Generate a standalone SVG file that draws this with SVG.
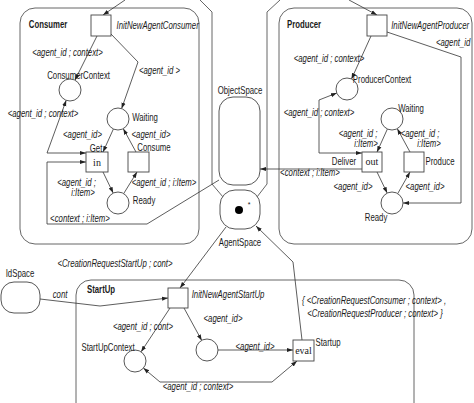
<svg xmlns="http://www.w3.org/2000/svg" width="474" height="403" viewBox="0 0 474 403">
<defs>
<marker id="a" viewBox="0 0 10 10" refX="10" refY="5" markerWidth="6" markerHeight="6" markerUnits="userSpaceOnUse" orient="auto-start-reverse">
<path d="M0,1.5 L10,5 L0,8.5 z" fill="#222"/>
</marker>
</defs>
<style>
.b{fill:none;stroke:#555;stroke-width:0.9}
.n{fill:#fff;stroke:#444;stroke-width:0.9}
.e{fill:none;stroke:#333;stroke-width:0.8}
.ar{fill:none;stroke:#333;stroke-width:0.8;marker-end:url(#a)}
.bi{fill:none;stroke:#333;stroke-width:0.8;marker-end:url(#a);marker-start:url(#a)}
text{font-family:"Liberation Sans",Arial,sans-serif;font-size:10px;fill:#1a1a1a;text-anchor:middle}
.t{transform-box:fill-box;transform-origin:center;transform:scaleX(0.78)}
.i{font-style:italic}
.h{font-weight:bold}
.s{font-family:"Liberation Serif","Times New Roman",serif;font-size:10px}
</style>

<g id="containers">
<rect class="b" x="20" y="8" width="179" height="236" rx="15"/>
<rect class="b" x="279" y="8" width="193" height="236" rx="15"/>
<rect class="b" x="76" y="280" width="338" height="150" rx="15"/>
<path class="b" d="M200,0 L212,12 L212,184 L223,197"/>
<path class="b" d="M280,0 L267,12 L267,184 L257,197"/>
</g>

<g id="connectors">
<path class="ar" d="M125,0 L103,15"/>
<path class="ar" d="M349,0 L377,15"/>
<path class="ar" d="M97,36 L74.9,80.2"/>
<path class="ar" d="M111,34 L138,62 L121.6,108.6"/>
<path class="ar" d="M113.4,129 L103,152"/>
<path class="ar" d="M136,152 L123.3,128.7"/>
<path class="ar" d="M103,172 L113.2,193.1"/>
<path class="ar" d="M123.7,193.6 L137,172"/>
<path class="bi" d="M66.2,100.3 L47,153 L86,153"/>
<path class="ar" d="M219,180 L147,224 L47,224 L47,162 L86,162"/>

<path class="ar" d="M371,36 L351.5,79"/>
<path class="ar" d="M387,32 L461,57 L461,203 L403,203"/>
<path class="ar" d="M387.4,129 L377,152"/>
<path class="ar" d="M410,152 L397.3,128.7"/>
<path class="ar" d="M377,172 L387.2,193.1"/>
<path class="ar" d="M397.7,193.6 L410,172"/>
<path class="bi" d="M336.8,93 L319,100 L319,153 L362,153"/>
<path class="ar" d="M362,169 L260,169"/>

<path class="ar" d="M40,299 L100,306 L168,298"/>
<path class="ar" d="M226,227 L180,288"/>
<path class="ar" d="M170,308 L141.1,351.8"/>
<path class="ar" d="M184,308 L201.7,340.4"/>
<path class="ar" d="M218,350 L293,350"/>
<path class="bi" d="M143.4,368.1 L160,382 L272,382 L297,361"/>
<path class="ar" d="M302,340 L293,262 L256,226"/>
</g>

<g id="ObjectSpace">
<rect class="n" x="219" y="97" width="41" height="88" rx="14"/>
<text class="t" x="240" y="94">ObjectSpace</text>
</g>
<g id="AgentSpace">
<rect class="n" x="220" y="190" width="40" height="39" rx="15"/>
<circle cx="239" cy="210" r="4" fill="#000"/>
<text x="249" y="207" style="font-size:7px">*</text>
<text class="t" x="240" y="246">AgentSpace</text>
</g>

<g id="Consumer">
<text class="t h" x="48" y="28">Consumer</text>
</g>
<g id="InitNewAgentConsumer">
<rect class="n" x="91" y="15" width="20" height="21"/>
<text class="t i" x="157.5" y="29">InitNewAgentConsumer</text>
</g>
<g id="ConsumerContext">
<circle class="n" cx="70" cy="90" r="11"/>
<text class="t" x="78.5" y="79">ConsumerContext</text>
</g>
<g id="ConsumerWaiting">
<circle class="n" cx="118" cy="119" r="11"/>
<text class="t" x="145" y="121">Waiting</text>
</g>
<g id="Get">
<rect class="n" x="86" y="152" width="22" height="20"/>
<text class="s" x="97" y="166">in</text>
<text class="t" x="96" y="152">Get</text>
</g>
<g id="Consume">
<rect class="n" x="128" y="152" width="21" height="20"/>
<text class="t" x="154" y="151">Consume</text>
</g>
<g id="ConsumerReady">
<circle class="n" cx="118" cy="203" r="11"/>
<text class="t" x="144" y="204">Ready</text>
</g>

<g id="Producer">
<text class="t h" x="304" y="28">Producer</text>
</g>
<g id="InitNewAgentProducer">
<rect class="n" x="367" y="15" width="20" height="21"/>
<text class="t i" x="430" y="29">InitNewAgentProducer</text>
</g>
<g id="ProducerContext">
<circle class="n" cx="347" cy="89" r="11"/>
<text class="t" x="382" y="83">ProducerContext</text>
</g>
<g id="ProducerWaiting">
<circle class="n" cx="392" cy="119" r="11"/>
<text class="t" x="411" y="112">Waiting</text>
</g>
<g id="Deliver">
<rect class="n" x="362" y="152" width="20" height="20"/>
<text class="s" x="372" y="165">out</text>
<text class="t" x="344" y="165">Deliver</text>
</g>
<g id="Produce">
<rect class="n" x="404" y="152" width="20" height="20"/>
<text class="t" x="440" y="165">Produce</text>
</g>
<g id="ProducerReady">
<circle class="n" cx="392" cy="203" r="11"/>
<text class="t" x="376" y="221">Ready</text>
</g>

<g id="IdSpace">
<rect class="n" x="1" y="282" width="39" height="31" rx="13"/>
<text class="t" x="20" y="277">IdSpace</text>
</g>
<g id="StartUp">
<text class="t h" x="101" y="293">StartUp</text>
</g>
<g id="InitNewAgentStartUp">
<rect class="n" x="168" y="288" width="20" height="20"/>
<text class="t i" x="228" y="298">InitNewAgentStartUp</text>
</g>
<g id="StartUpContext">
<circle class="n" cx="135" cy="361" r="11"/>
<text class="t" x="108" y="351">StartUpContext</text>
</g>
<g id="StartUpPlace">
<circle class="n" cx="207" cy="350" r="11"/>
</g>
<g id="Startup">
<rect class="n" x="293" y="340" width="21" height="21"/>
<text class="s" x="303.5" y="354">eval</text>
<text class="t" x="328" y="346">Startup</text>
</g>

<g id="labels">
<text class="t i" x="67.5" y="56">&lt;agent_id ; context&gt;</text>
<text class="t i" x="159.5" y="74">&lt;agent_id &gt;</text>
<text class="t i" x="43" y="117">&lt;agent_id ; context&gt;</text>
<text class="t i" x="82.5" y="138">&lt;agent_id&gt;</text>
<text class="t i" x="151" y="138">&lt;agent_id&gt;</text>
<text class="t i" x="76.5" y="186">&lt;agent_id ;</text>
<text class="t i" x="83" y="196">i:Item&gt;</text>
<text class="t i" x="164" y="186">&lt;agent_id ; i:Item&gt;</text>
<text class="t i" x="80" y="222">&lt;context ; i:Item&gt;</text>

<text class="t i" x="329" y="62">&lt;agent_id ; context&gt;</text>
<text class="t i" x="453" y="46">&lt;agent_id</text>
<text class="t i" x="319" y="116">&lt;agent_id ; context&gt;</text>
<text class="t i" x="358" y="137">&lt;agent_id ;</text>
<text class="t i" x="366" y="147">i:Item&gt;</text>
<text class="t i" x="420" y="137">&lt;agent_id ;</text>
<text class="t i" x="429" y="147">i:Item&gt;</text>
<text class="t i" x="310" y="176">&lt;context ; i:Item&gt;</text>
<text class="t i" x="353" y="190">&lt;agent_id&gt;</text>
<text class="t i" x="425" y="190">&lt;agent_id&gt;</text>

<text class="t i" x="115" y="267">&lt;CreationRequestStartUp ; cont&gt;</text>
<text class="t i" x="60" y="298">cont</text>
<text class="t i" x="143" y="330">&lt;agent_id ; cont&gt;</text>
<text class="t i" x="223" y="322">&lt;agent_id&gt;</text>
<text class="t i" x="255" y="350">&lt;agent_id&gt;</text>
<text class="t i" x="374" y="304">{ &lt;CreationRequestConsumer ; context&gt; ,</text>
<text class="t i" x="375" y="317">&lt;CreationRequestProducer ; context&gt; }</text>
<text class="t i" x="198" y="390">&lt;agent_id ; context&gt;</text>
</g>
</svg>
